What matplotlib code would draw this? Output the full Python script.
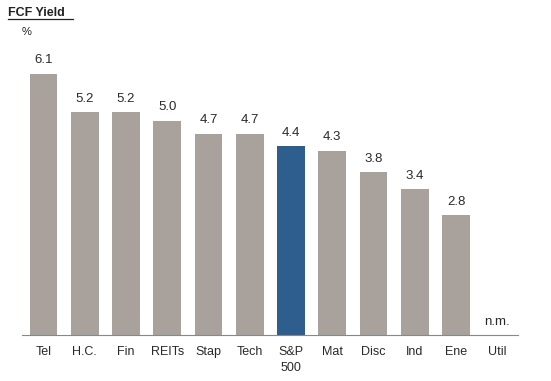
import matplotlib.pyplot as plt
import numpy as np

plt.rcParams['font.family'] = ['Liberation Sans', 'DejaVu Sans']

sectors = ['Tel', 'H.C.', 'Fin', 'REITs', 'Stap', 'Tech', 'S&P\n500',
           'Mat', 'Disc', 'Ind', 'Ene', 'Util']
fcf_yield = [6.1, 5.2, 5.2, 5.0, 4.7, 4.7, 4.4, 4.3, 3.8, 3.4, 2.8, np.nan]
value_labels = ['6.1', '5.2', '5.2', '5.0', '4.7', '4.7', '4.4', '4.3',
                '3.8', '3.4', '2.8', 'n.m.']

grey = '#a9a29c'
blue = '#2e5e8e'
colors = [blue if s.startswith('S&P') else grey for s in sectors]

fig = plt.figure(figsize=(5.51, 3.81), dpi=100)
ax = fig.add_axes([22/551, 46/381, 496/551, 300/381])

x = np.arange(len(sectors))
heights = np.nan_to_num(fcf_yield)
ax.bar(x, heights, width=0.67, color=colors)

for xi, v, lab in zip(x, fcf_yield, value_labels):
    yv = 0.0 if np.isnan(v) else v
    ax.text(xi, yv + 0.17, lab, ha='center', va='bottom', fontsize=9.5,
            color='#2a2a2a')

ax.set_xlim(-0.52, 11.5)
ax.set_ylim(0, 7.0)
ax.set_xticks(x)
ax.set_xticklabels(sectors, fontsize=9, color='#2a2a2a', linespacing=1.45)
ax.tick_params(axis='x', length=0, pad=8)
ax.set_yticks([])
for s in ['top', 'right', 'left']:
    ax.spines[s].set_visible(False)
ax.spines['bottom'].set_color('#888888')
ax.spines['bottom'].set_linewidth(0.8)

fig.text(8/551, 1 - 13/381, 'FCF Yield', fontsize=9, fontweight='bold',
         va='center', ha='left', color='#222222')
fig.add_artist(plt.Line2D([8/551, 73/551], [1 - 18.5/381, 1 - 18.5/381],
                          color='#222222', lw=0.9))
fig.text(22/551, 1 - 32/381, '%', fontsize=8, va='center', ha='left',
         color='#222222')

fig.savefig('out.png', dpi=100)
